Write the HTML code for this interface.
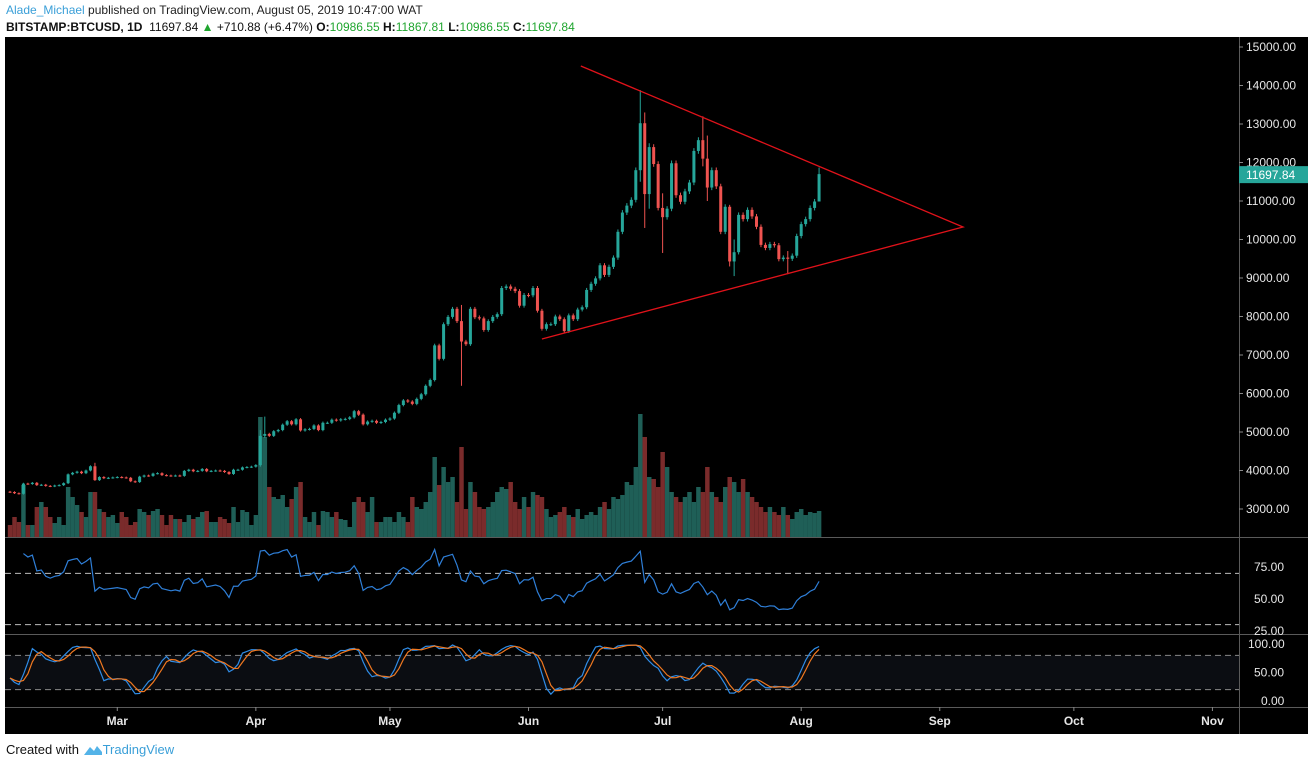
<!DOCTYPE html>
<html><head><meta charset="utf-8"><style>
body{margin:0;background:#fff;width:1308px;height:768px;overflow:hidden;font-family:"Liberation Sans",sans-serif}
#hdr1{position:absolute;left:6px;top:3px;font-size:12px;color:#222}
#hdr2{position:absolute;left:6px;top:20px;font-size:12px;color:#111}
#foot{position:absolute;left:6px;top:742px;font-size:13px;color:#111}
svg{position:absolute;left:0;top:0}
</style></head><body>
<div id="hdr1"><span style="color:#3a9fd8">Alade_Michael</span> published on TradingView.com, August 05, 2019 10:47:00 WAT</div>
<div id="hdr2"><b>BITSTAMP:BTCUSD, 1D</b> &nbsp;11697.84 <span style="color:#1fa52e">▲</span> +710.88 (+6.47%) <b>O:</b><span style="color:#1fa52e">10986.55</span> <b>H:</b><span style="color:#1fa52e">11867.81</span> <b>L:</b><span style="color:#1fa52e">10986.55</span> <b>C:</b><span style="color:#1fa52e">11697.84</span></div>
<div id="foot">Created with <svg style="position:static;vertical-align:-3px" width="20" height="14" viewBox="0 0 20 14"><path d="M1 12 L7 4 L11 8 L14 3 L19 9 L19 12 Z" fill="#53b3e8"/></svg><span style="color:#3a9fd8">TradingView</span></div>
<svg id="chart" width="1308" height="768"></svg>
<script>
const closes=[3440,3410,3395,3660,3650,3680,3620,3630,3600,3590,3610,3620,3670,3900,3940,3970,3930,4000,4110,3750,3830,3800,3810,3820,
3830,3820,3810,3720,3700,3840,3870,3860,3920,3930,3880,3870,3860,3870,3860,3990,4020,3980,3990,4040,3980,3990,4000,3990,3960,3910,4020,4020,4080,4090,4100,
4140,4900,4950,4900,5020,5050,5190,5280,5200,5330,5040,5070,5080,5170,5050,5240,5240,5320,5300,5330,5340,5380,5540,5450,5200,5270,5290,5240,5260,5320,
5350,5500,5700,5820,5790,5730,5860,5980,6200,6350,7250,6900,7800,7990,8200,7880,7350,7280,8200,7980,7950,7650,7880,7990,8060,8740,8780,8720,8660,8280,8560,
8550,8740,8150,7680,7800,7800,8000,7930,7620,8030,7930,8180,8240,8690,8850,8990,9330,9080,9290,9530,10200,10700,10880,11030,11800,13020,11180,12400,11960,10820,
10580,10800,11980,11150,10980,11250,11480,12300,12580,12100,11350,11800,11380,10200,10850,9430,9670,10640,10530,10770,10600,10330,9860,9780,9880,9850,9490,9530,9500,9580,10090,
10400,10530,10820,10987,11698];
const firstOpen=3450;
const volumes=[12,20,15,52,12,12,30,35,30,20,14,20,12,50,40,32,25,20,45,45,28,25,20,22,
14,25,20,12,15,28,25,22,26,28,22,12,22,18,18,15,22,18,20,25,26,15,15,20,18,14,30,15,27,25,12,
22,120,100,50,40,38,42,30,38,50,55,20,15,25,12,26,25,20,25,18,17,10,35,40,35,25,40,15,15,20,
20,15,25,20,15,40,30,28,35,45,80,52,70,55,60,35,90,28,55,45,30,28,30,35,45,50,48,55,35,28,40,
30,45,42,40,28,20,22,25,30,22,20,28,18,22,25,22,30,35,28,40,38,42,55,52,70,123,100,60,58,50,
85,70,45,40,35,40,45,35,50,45,70,45,40,35,50,60,55,45,58,45,40,35,30,25,30,25,22,30,22,18,25,
28,22,25,24,26];
const wickDays=[19,56,57,101,141,142,143,146,155,156,161,162,174,181];
const wickHighs=[4200,5050,5400,8300,13880,13300,12500,11200,13200,12700,10900,10000,9700,11868];
const wickLows=[3730,4100,4850,6200,11500,10300,10800,9650,11900,11000,9300,9050,9100,10987];
const priceTicks=[3000,4000,5000,6000,7000,8000,9000,10000,11000,12000,13000,14000,15000];
const monthLabels=["Mar","Apr","May","Jun","Jul","Aug","Sep","Oct","Nov"];
const monthDayIdx=[24,55,85,116,146,177,208,238,269];
const trendLineDays=[127.7,213.2,119];
const trendLinePrices=[14506,10325,7416];
const rsiTicks=[75,50,25];
const stochTicks=[100,50,0];

const NS="http://www.w3.org/2000/svg";
const svg=document.getElementById('chart');
function el(t,a,p){const e=document.createElementNS(NS,t);for(const k in a)e.setAttribute(k,a[k]);(p||svg).appendChild(e);return e;}
const xDay=i=>10+i*4.47;
const yP=p=>47+(15000-p)*0.0385;
const yR=v=>599-(v-50)*1.28;
const yS=v=>701-v*0.57;
const yV=v=>537-v;

let f=el('rect',{x:5,y:37,width:1303,height:697,fill:'#000'});

el('rect',{x:5,y:yS(80),width:1234,height:yS(20)-yS(80),fill:'#0b0d12'});
[[537],[634],[707]].forEach(([y])=>el('line',{x1:5,x2:1308,y1:y+.5,y2:y+.5,stroke:'#5a5a5a'}));
el('line',{x1:1239.5,x2:1239.5,y1:37,y2:734,stroke:'#5a5a5a'});
[yR(70),yR(30)].forEach(y=>el('line',{x1:5,x2:1239,y1:y,y2:y,stroke:'#bbb','stroke-dasharray':'6,4'}));
[yS(80),yS(20)].forEach(y=>el('line',{x1:5,x2:1239,y1:y,y2:y,stroke:'#888','stroke-dasharray':'6,4'}));

const opens=closes.map((c,i)=>i?closes[i-1]:firstOpen);
const highs=closes.map((c,i)=>Math.max(c,opens[i])*1.006);
const lows=closes.map((c,i)=>Math.min(c,opens[i])*0.994);
wickDays.forEach((d,k)=>{highs[d]=wickHighs[k];lows[d]=wickLows[k];});

const vg=el('g',{});
volumes.forEach((v,i)=>{const up=closes[i]>=opens[i];
 const r=el('rect',{x:xDay(i)-2.2,y:yV(v),width:4.47,height:v,fill:up?'#1f5f57':'#7a2b2b'},vg);
 });
const cg=el('g',{});
closes.forEach((c,i)=>{const o=opens[i],up=c>=o,col=up?'#26a69a':'#ef5350',x=xDay(i);
 el('line',{x1:x,x2:x,y1:yP(highs[i]),y2:yP(lows[i]),stroke:col,'stroke-width':1},cg);
 const t=yP(Math.max(o,c)),b=yP(Math.min(o,c));
 const r=el('rect',{x:x-1.5,y:t,width:3,height:Math.max(1,b-t),fill:col},cg);
 });
const tri=el('polyline',{points:[[xDay(trendLineDays[0]),yP(trendLinePrices[0])],[xDay(trendLineDays[1]),yP(trendLinePrices[1])],[xDay(trendLineDays[2]),yP(trendLinePrices[2])]].map(p=>p.join(',')).join(' '),fill:'none',stroke:'#e0121a','stroke-width':1.3});


const rsi=[];let ag=0,al=0;
for(let i=1;i<closes.length;i++){const d=closes[i]-closes[i-1],g=Math.max(d,0),l=Math.max(-d,0);
 if(i<=14){ag+=g/14;al+=l/14;}else{ag=(ag*13+g)/14;al=(al*13+l)/14;}
 rsi[i]=al===0?100:100-100/(1+ag/al);}
const rp=[];for(let i=3;i<closes.length;i++)if(rsi[i]!==undefined)rp.push(xDay(i)+','+yR(Math.min(95,Math.max(5,rsi[i]))));
let rl=el('polyline',{points:rp.join(' '),fill:'none',stroke:'#2f7fd8','stroke-width':1.2});

const raw=closes.map((c,i)=>{const s=Math.max(0,i-13);const hh=Math.max(...highs.slice(s,i+1)),ll=Math.min(...lows.slice(s,i+1));return hh===ll?50:(c-ll)/(hh-ll)*100;});
const sma=(a,n)=>a.map((v,i)=>{const s=a.slice(Math.max(0,i-n+1),i+1);return s.reduce((x,y)=>x+y,0)/s.length;});
const K=sma(raw,3),D=sma(K,3);
let kl=el('polyline',{points:K.map((v,i)=>xDay(i)+','+yS(v)).join(' '),fill:'none',stroke:'#2f8ce6','stroke-width':1.2});

let dl=el('polyline',{points:D.map((v,i)=>xDay(i)+','+yS(v)).join(' '),fill:'none',stroke:'#f07820','stroke-width':1.2});


function txt(s,x,y,a,name){const t=el('text',Object.assign({x:x,y:y,fill:'#e6e6e6','font-size':12,'font-family':'Liberation Sans, sans-serif'},a||{}));t.textContent=s;return t;}
priceTicks.forEach(p=>{const y=yP(p);el('line',{x1:1239,x2:1243,y1:y,y2:y,stroke:'#888'});txt(p.toFixed(2),1246,y+4,{},'price-tick-label');});
rsiTicks.forEach(v=>{const y=yR(v);txt(v.toFixed(2),1254,y+4,{},'rsi-tick-label');});
stochTicks.forEach(v=>{const y=yS(v);txt(v.toFixed(2),v===100?1248:(v===0?1261:1254),y+4,{},'stoch-tick-label');});
monthLabels.forEach((m,k)=>{const x=xDay(monthDayIdx[k]);el('line',{x1:x,x2:x,y1:707,y2:711,stroke:'#888'});txt(m,x,725,{'text-anchor':'middle','font-weight':'bold'},'month-label');});
const ly=yP(closes[closes.length-1]);
let tag=el('rect',{x:1239,y:ly-8,width:69,height:17,fill:'#26a69a'});
txt(closes[closes.length-1]===11698?'11697.84':closes[closes.length-1].toFixed(2),1246,ly+5,{fill:'#fff'},'last-price-label');
el('rect',{x:1,y:37,width:4,height:697,fill:'#fff'});
</script>
</body></html>
